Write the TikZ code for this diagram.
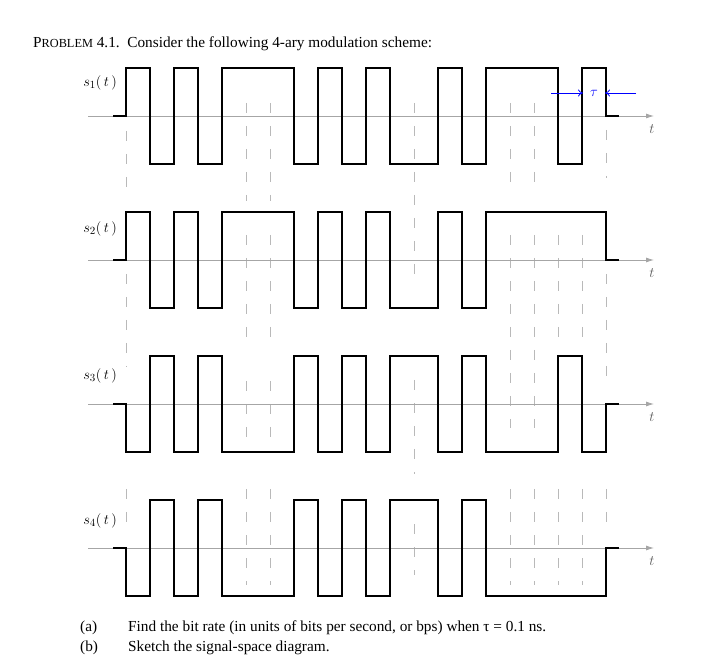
\documentclass[tikz,border=0pt]{standalone}
\usepackage{fontspec}
\setmainfont{Liberation Serif}
\usetikzlibrary{arrows.meta}
\begin{document}
\begin{tikzpicture}[x=1pt,y=-1pt,
  wave/.style={line width=1.8pt,line join=miter},
  axisline/.style={gray!70,line width=0.8pt,-{Latex[length=8pt,width=5pt]}},
  grid/.style={gray!55,line width=0.7pt,dash pattern=on 10pt off 13pt},
  lbl/.style={font=\fontsize{15}{17}\selectfont},
  txt/.style={font=\fontsize{15.3}{17}\selectfont,anchor=base west,inner sep=0pt},
  tau/.style={blue,line width=0.8pt,-{To[length=5pt,width=7pt]}}]
\useasboundingbox (0,0) rectangle (721,660);
\node[txt] (title) at (33,48) {P{\fontsize{12.3}{14}\selectfont ROBLEM} 4.1.\ \ Consider the following 4-ary modulation scheme:};
% dashed guides
\foreach \x/\ya/\yb in {126/131/189,126/274/367,126/489/535,
  246/103/201,246/235/349,246/381/439,246/489/585,
  270/103/201,270/235/349,270/381/439,270/489/585,
  414/103/285,414/380/474,414/524/575,
  510/103/189,510/235/428,510/489/585,534/103/189,534/235/428,534/489/585,
  558/235/346,558/489/585,582/235/346,582/489/585,
  606/130/178,606/274/381,606/489/535}
  \draw[grid] (\x,\ya) -- (\x,\yb);
% axes
\foreach \b/\n in {116/1,260/2,404/3,548/4}{
  \draw[axisline] (88,\b) -- (654,\b);
  \node[lbl,text=gray!70!black] (t\n) at (652,\b+13) {$t$};
}
\node[lbl] (l1) at (100,83) {$s_1(\,t\,)$};
\node[lbl] (l2) at (100,229) {$s_2(\,t\,)$};
\node[lbl] (l3) at (100,376) {$s_3(\,t\,)$};
\node[lbl] (l4) at (100,521) {$s_4(\,t\,)$};
% waveforms
\def\wv#1#2{\draw[wave] (113,#1) -- (126,#1)
  foreach \l [count=\i from 0] in {#2} { -- ({126+24*\i},{#1-48*\l}) -- ({150+24*\i},{#1-48*\l}) }
  -- (606,#1) -- (619,#1);}
\wv{116}{1,-1,1,-1,1,1,1,-1,1,-1,1,-1,-1,1,-1,1,1,1,-1,1}
\wv{260}{1,-1,1,-1,1,1,1,-1,1,-1,1,-1,-1,1,-1,1,1,1,1,1}
\wv{404}{-1,1,-1,1,-1,-1,-1,1,-1,1,-1,1,1,-1,1,-1,-1,-1,1,-1}
\wv{548}{-1,1,-1,1,-1,-1,-1,1,-1,1,-1,1,1,-1,1,-1,-1,-1,-1,-1}
% tau
\node[lbl,text=blue] (tau) at (594,93) {$\tau$};
\coordinate (ta) at (551,93); \coordinate (tb) at (583,93);
\coordinate (tc) at (636,93); \coordinate (td) at (605,93);
\draw[tau] (ta) -- (tb);
\draw[tau] (tc) -- (td);
% questions
\node[txt] (qa) at (80,631) {(a)};
\node[txt] (qb) at (80,651) {(b)};
\node[txt] (ta1) at (128,631) {Find the bit rate (in units of bits per second, or bps) when τ = 0.1 ns.};
\node[txt] (tb1) at (128,651) {Sketch the signal-space diagram.};
\end{tikzpicture}
\end{document}
